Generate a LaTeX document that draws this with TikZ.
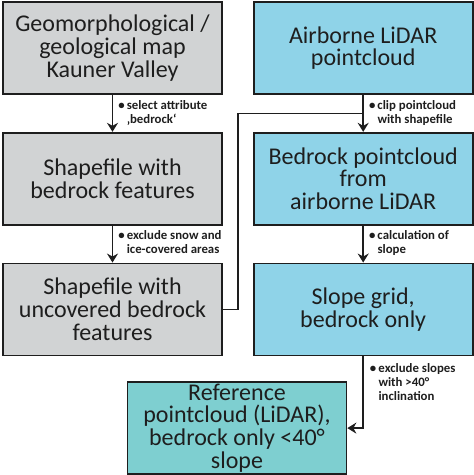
\documentclass[tikz,border=0pt]{standalone}
\usepackage{fontspec}
\setmainfont{Carlito}
\usepackage{tikz}
\usetikzlibrary{arrows.meta,positioning,calc}
\definecolor{MapGray}{HTML}{D1D3D4}
\definecolor{LidarBlue}{HTML}{8FD3E8}
\definecolor{RefTeal}{HTML}{7ECFD0}
\definecolor{InkDark}{HTML}{1E1E1E}

\begin{document}
\begin{tikzpicture}[
  box/.style={draw=InkDark,line width=1.7pt,minimum width=219pt,minimum height=92pt,align=center,text=InkDark,inner sep=1pt,font=\fontsize{24}{22.8}\selectfont},
  grey/.style={box,fill=MapGray},
  blue/.style={box,fill=LidarBlue},
  arrow/.style={-{Stealth[length=9pt,width=11pt,inset=3pt]},line width=1.6pt,draw=InkDark},
  link/.style={line width=1.6pt,draw=InkDark},
  step label/.style={font=\fontsize{12.8}{13.8}\selectfont\bfseries,text=InkDark,inner sep=0pt},
  node distance=37pt and 30pt]
  \useasboundingbox (-112.5pt,48pt) rectangle (361.5pt,-427pt);
  % left column: map data
  \node[grey] (geomap) {Geomorphological /\\geological map\\Kauner Valley};
  \node[grey,below=of geomap] (shpbed) {Shapefile with\\bedrock features};
  \node[grey,below=of shpbed] (shpfree) {Shapefile with\\uncovered bedrock\\features};
  % right column: LiDAR
  \node[blue,right=of geomap] (als) {Airborne LiDAR\\pointcloud};
  \node[blue,below=of als] (bedpc) {Bedrock pointcloud\\from\\airborne LiDAR};
  \node[blue,below=of bedpc] (slope) {Slope grid,\\bedrock only};
  \node[box,fill=RefTeal,below=25pt of shpfree,xshift=124.5pt] (refpc) {Reference\\pointcloud (LiDAR),\\bedrock only <40°\\slope};
  \coordinate (merge) at ($(als.south)!0.5!(bedpc.north)$);
  \draw[arrow] (geomap) -- node[right=5pt,step label]{\begin{tabular}{@{}l@{\,}l@{}}\textbullet & select attribute\\ & ‚bedrock‘\end{tabular}} (shpbed);
  \draw[arrow] (shpbed) -- node[right=5pt,step label]{\begin{tabular}{@{}l@{\,}l@{}}\textbullet & exclude snow and\\ & ice-covered areas\end{tabular}} (shpfree);
  \draw[arrow] (als) -- node[right=5pt,step label]{\begin{tabular}{@{}l@{\,}l@{}}\textbullet & clip pointcloud\\ & with shapefile\end{tabular}} (bedpc);
  \draw[link] (shpfree.east) -- ++(15pt,0) |- (merge);
  \draw[arrow] (bedpc) -- node[right=5pt,step label]{\begin{tabular}{@{}l@{\,}l@{}}\textbullet & calculation of\\ & slope\end{tabular}} (slope);
  \draw[arrow] (slope.south) |- node[pos=0.04,anchor=north west,xshift=6pt,step label]{\begin{tabular}{@{}l@{\,}l@{}}\textbullet & exclude slopes\\ & with >40°\\ & inclination\end{tabular}} (refpc.east);
\end{tikzpicture}
\end{document}
